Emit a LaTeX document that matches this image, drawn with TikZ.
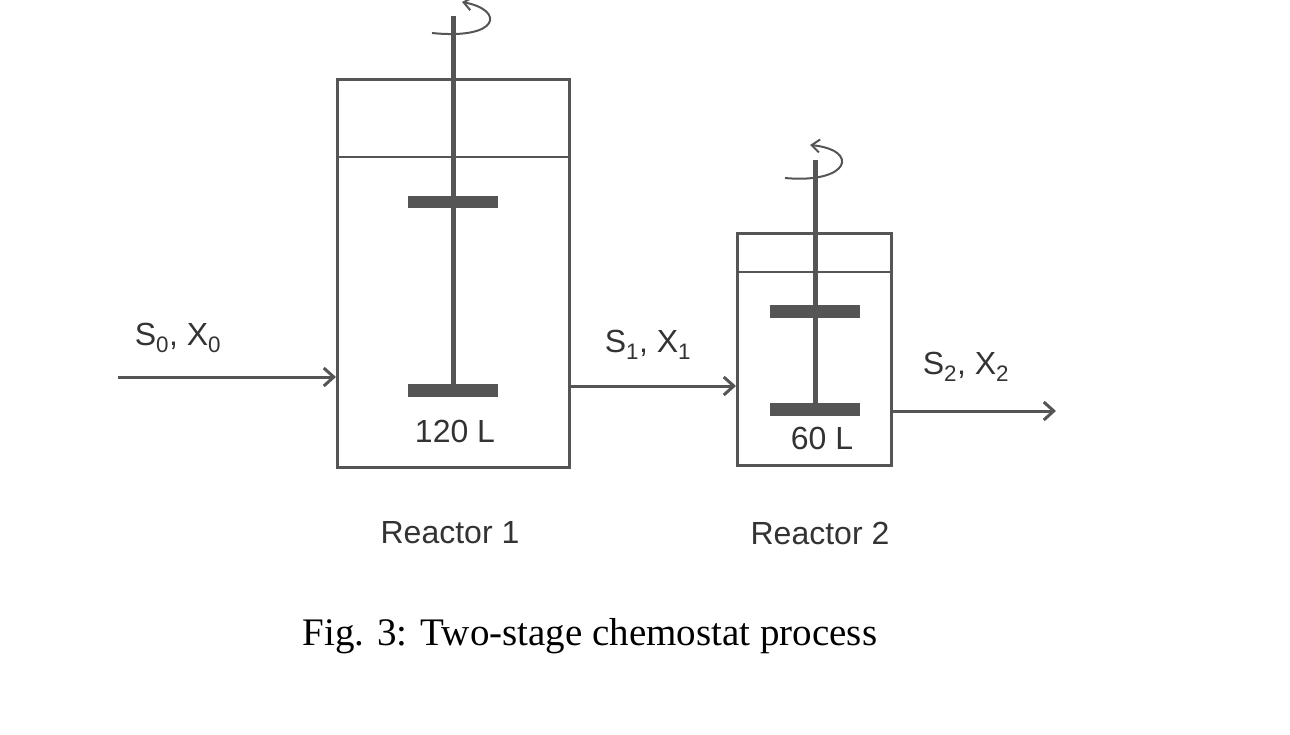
\documentclass[tikz,border=0pt]{standalone}
\usepackage{fontspec}
\setmainfont{Liberation Sans}
\newfontfamily\capfont{Liberation Serif}
\usetikzlibrary{arrows.meta}
\definecolor{gr}{HTML}{555555}
\begin{document}
\begin{tikzpicture}[x=1pt,y=-1pt,
  vessel/.style={draw=gr,line width=3.2pt},
  shaftline/.style={draw=gr,line width=5pt},
  paddle/.style={fill=gr,draw=none},
  flow/.style={draw=gr,line width=3pt,-{Straight Barb[length=10pt,width=18pt,line width=3pt]}},
  spin/.style={draw=gr,line width=2pt,-{Straight Barb[length=8pt,width=13pt,line width=2pt]}},
  lbl/.style={text=black!80,font=\fontsize{32}{36}\selectfont},
  liquid/.style={draw=gr,line width=1.5pt}]
\useasboundingbox (0,0) rectangle (1290,734);
% Reactor 1
\node[vessel,minimum width=232pt,minimum height=388pt,inner sep=0,anchor=north west] (r1) at (336,78) {};
\draw[liquid] (336,157) -- (568,157);
\coordinate (s1t) at (453,16);
\coordinate (s1b) at (453,390);
\draw[shaftline] (s1t) -- (s1b);
\node[paddle,minimum width=90pt,minimum height=12pt,inner sep=0] (p1a) at (453,202) {};
\node[paddle,minimum width=90pt,minimum height=13pt,inner sep=0] (p1b) at (453,390) {};
\draw[spin] (432,33) .. controls (500,40) and (505,10) .. (462,2);
\node[lbl] (v1) at (455,431) {120 L};
\node[lbl] (n1) at (450,533) {Reactor 1};
% Reactor 2
\node[vessel,minimum width=154pt,minimum height=232pt,inner sep=0,anchor=north west] (r2) at (736,232) {};
\draw[liquid] (736,272) -- (890,272);
\coordinate (s2t) at (815,160);
\coordinate (s2b) at (815,410);
\draw[shaftline] (s2t) -- (s2b);
\node[paddle,minimum width=90pt,minimum height=13pt,inner sep=0] (p2a) at (815,311) {};
\node[paddle,minimum width=90pt,minimum height=13pt,inner sep=0] (p2b) at (815,409) {};
\draw[spin] (785,178) .. controls (850,184) and (860,150) .. (810,145);
\node[lbl] (v2) at (822,438) {60 L};
\node[lbl] (n2) at (820,533) {Reactor 2};
% flows
\coordinate (in) at (118,377);
\draw[flow] (in) -- (r1.west |- in);
\node[lbl] (l0) at (178,338) {S\textsubscript{0}, X\textsubscript{0}};
\coordinate (m) at (568,386);
\draw[flow] (m) -- (r2.west |- m);
\node[lbl] (l1) at (648,345) {S\textsubscript{1}, X\textsubscript{1}};
\coordinate (o1) at (890,411);
\coordinate (o2) at (1056,411);
\draw[flow] (o1) -- (o2);
\node[lbl] (l2) at (966,367) {S\textsubscript{2}, X\textsubscript{2}};
\node[font=\capfont\fontsize{39}{44}\selectfont] (cap) at (590,636) {Fig. 3: Two-stage chemostat process};
\end{tikzpicture}
\end{document}
